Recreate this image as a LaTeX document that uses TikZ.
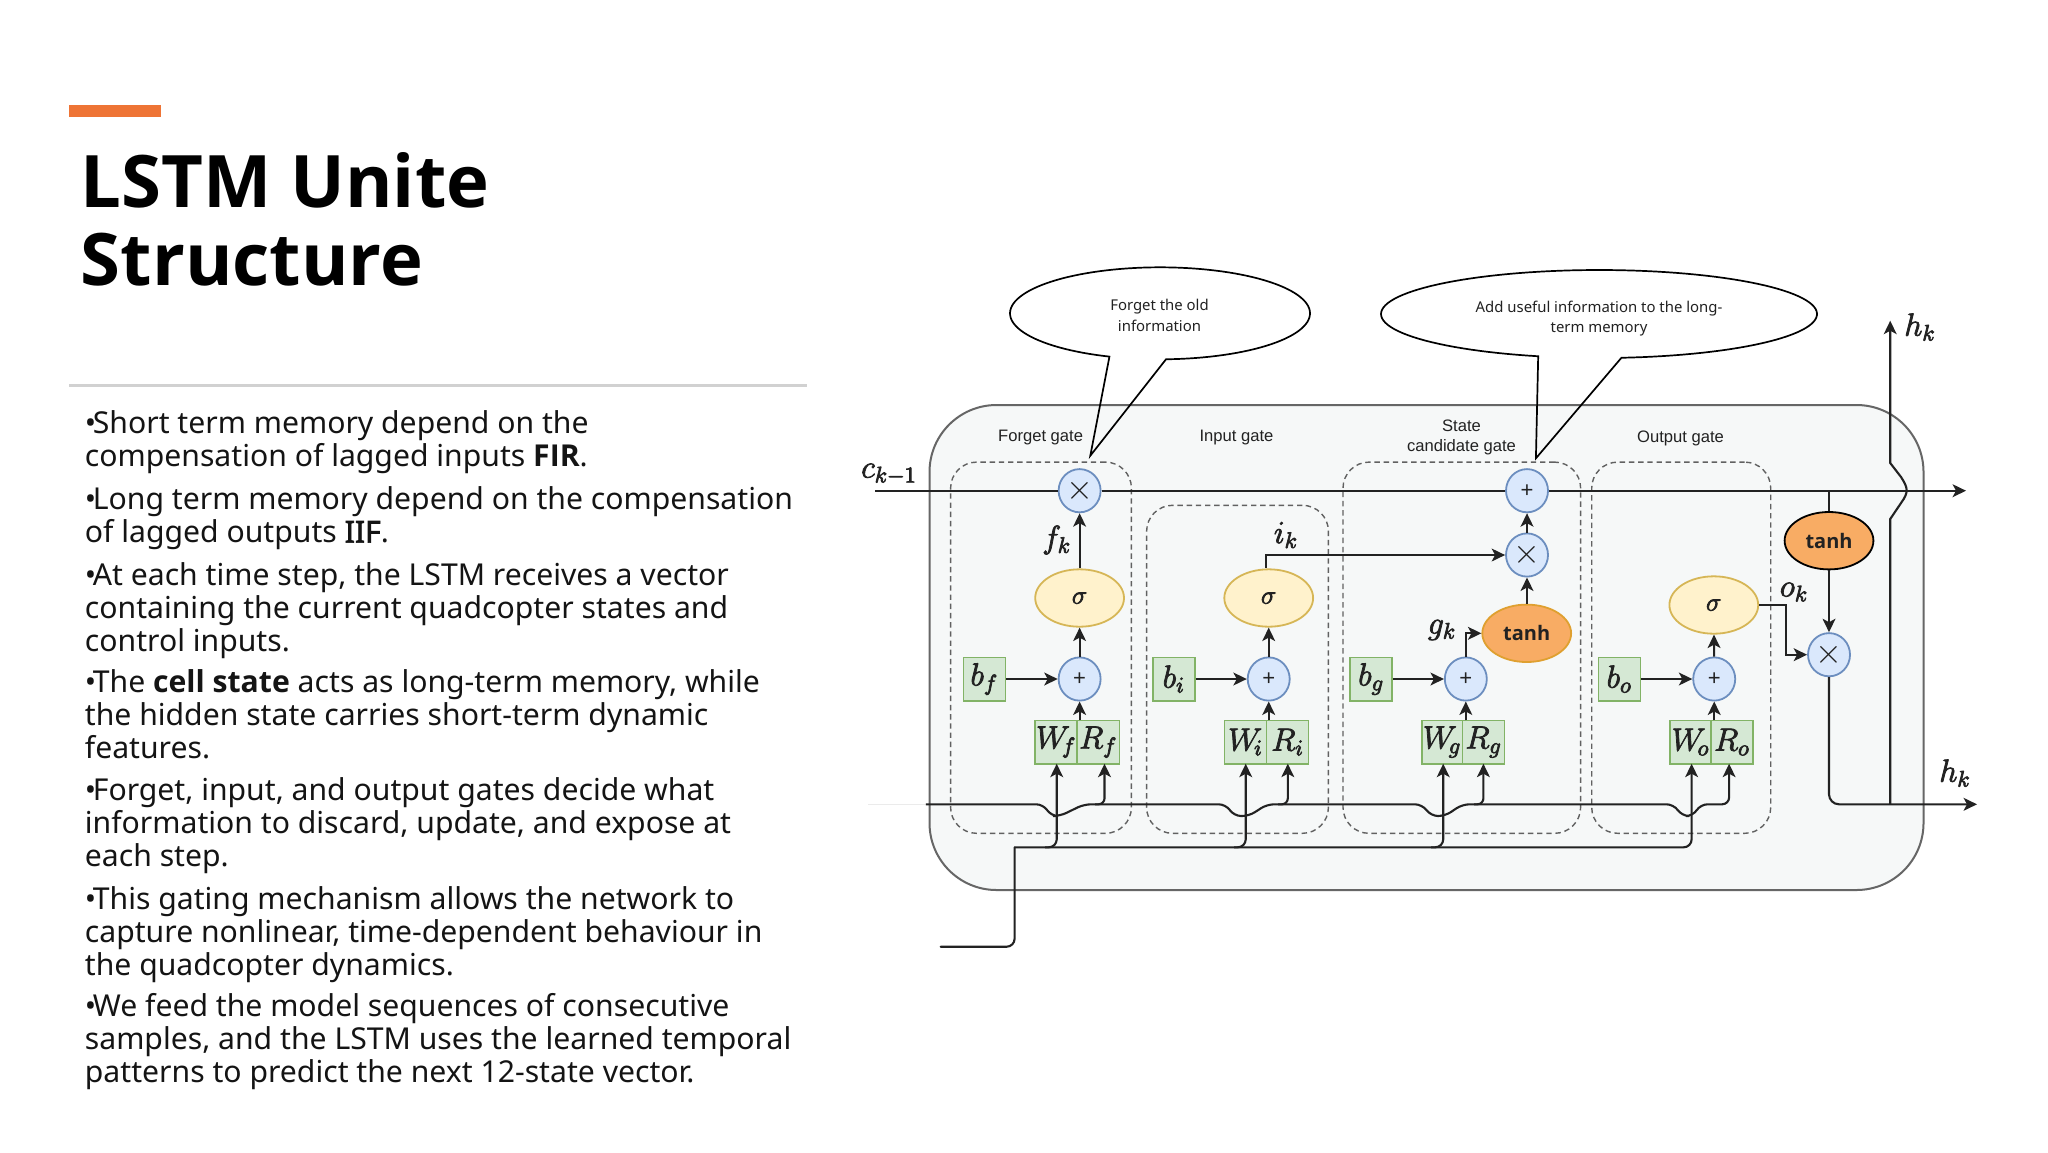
\documentclass[tikz,border=0pt]{standalone}
\usepackage{fix-cm}
\usepackage{amsmath}
\usepackage[no-math]{fontspec}
\setmainfont{Noto Sans}
\newfontfamily\osans{Open Sans}
\newfontfamily\nfake{Noto Sans}[FakeBold=2.2]
\newfontfamily\arialf{Liberation Sans}
\usetikzlibrary{arrows.meta,shapes.geometric,calc}
\definecolor{ink}{HTML}{222222}
\definecolor{bgbox}{HTML}{F6F8F8}
\definecolor{opfill}{HTML}{DAE8FC}
\definecolor{opline}{HTML}{6C8EBF}
\definecolor{sgfill}{HTML}{FFF2CC}
\definecolor{sgline}{HTML}{D6B656}
\definecolor{gnfill}{HTML}{D5E8D4}
\definecolor{gnline}{HTML}{82B366}
\definecolor{orfill}{HTML}{F8AC64}
\definecolor{orline}{HTML}{DFA030}
\definecolor{barc}{HTML}{EE7435}
\tikzset{
  x=0.5pt,y=-0.5pt,
  line/.style={draw=ink,line width=1.05pt},
  arrow/.style={line,-{Stealth[length=6.7pt,width=6.4pt,inset=1.7pt]}},
  dashbox/.style={draw=black!62,dash pattern=on 2.7pt off 1.9pt,line width=.7pt,rounded corners=13pt,inner sep=0pt},
  opn/.style={ellipse,draw=opline,fill=opfill,line width=.9pt,inner sep=0pt,minimum width=21pt,minimum height=21.6pt,text=ink},
  sigm/.style={ellipse,draw=sgline,fill=sgfill,line width=.9pt,inner sep=0pt,minimum width=44.4pt,minimum height=28.7pt,text=ink,font=\fontsize{13}{14}\selectfont},
  tanhn/.style={ellipse,fill=orfill,draw=orline,line width=.9pt,inner sep=0pt,minimum width=44.4pt,minimum height=28.7pt,text=ink,font=\osans\bfseries\fontsize{10}{12}\selectfont},
  wbox/.style={rectangle,draw=gnline,fill=gnfill,line width=.8pt,inner sep=0pt,minimum width=21pt,minimum height=21.7pt,font=\fontsize{16}{17}\selectfont,text=ink},
  gatetxt/.style={font=\arialf\fontsize{8.3}{10.3}\selectfont,text=ink,align=center,inner sep=0pt},
  calltxt/.style={font=\fontsize{7.45}{10.3}\selectfont,text=ink,align=center,inner sep=0pt},
  mathl/.style={font=\fontsize{16}{18}\selectfont,text=ink,inner sep=0pt},
  bodyp/.style={anchor=north west,inner sep=0pt,align=left,text=black!92,font=\fontsize{15.08}{16.35}\selectfont},
  titlet/.style={anchor=base west,inner sep=0pt,text=black,font=\osans\bfseries\fontsize{36.2}{39}\selectfont},
}
\newcommand{\fs}{\rule{0pt}{12pt}•\kern-1.7pt}
\newcommand{\bt}[1]{{\osans\bfseries #1}}
\newcommand{\plusg}{\arialf\fontsize{11}{12}\selectfont +}
\newcommand{\timesg}{\fontsize{17.28}{18}\selectfont$\times$}
\newcommand{\hvy}[1]{\special{pdf:code 2 Tr 0.38 w}#1\special{pdf:code 0 Tr 0 w}}
\begin{document}
\begin{tikzpicture}
\useasboundingbox (0,0) rectangle (2048,1152);
\fill[white] (0,0) rectangle (2048,1152);
% slide furniture
\fill[barc] (69,105) rectangle (161,117);
\node[titlet] (t1) at (80.5,207) {LSTM Unite};
\node[titlet] (t2) at (80.5,285) {Structure};
\draw[black!18,line width=1.3pt] (69,385.5) -- (807,385.5);
% body
\node[bodyp] (p1) at (84.5,409.5) {\fs Short term memory depend on the\\compensation of lagged inputs \bt{FIR}.};
\node[bodyp] (p2) at (84.5,485.5) {\fs Long term memory depend on the compensation\\of lagged outputs {\nfake IIF}.};
\node[bodyp] (p3) at (84.5,561.5) {\fs At each time step, the LSTM receives a vector\\containing the current quadcopter states and\\control inputs.};
\node[bodyp] (p4) at (84.5,668.5) {\fs The \bt{cell state} acts as long-term memory, while\\the hidden state carries short-term dynamic\\features.};
\node[bodyp] (p5) at (84.5,776.5) {\fs Forget, input, and output gates decide what\\information to discard, update, and expose at\\each step.};
\node[bodyp] (p6) at (84.5,885.5) {\fs This gating mechanism allows the network to\\capture nonlinear, time-dependent behaviour in\\the quadcopter dynamics.};
\node[bodyp] (p7) at (84.5,992.5) {\fs We feed the model sequences of consecutive\\samples, and the LSTM uses the learned temporal\\patterns to predict the next 12-state vector.};
% outer cell
\node[rectangle,draw=black!60,fill=bgbox,line width=1pt,rounded corners=33.5pt,inner sep=0pt,minimum width=497pt,minimum height=242.5pt] (cell) at (1426.5,647.5) {};
% gate frames
\node[dashbox,minimum width=90.4pt,minimum height=185.6pt] (gf) at (1041,647.7) {};
\node[dashbox,minimum width=90.9pt,minimum height=164pt] (gi) at (1237.5,669.3) {};
\node[dashbox,minimum width=118.8pt,minimum height=185.6pt] (gg) at (1461.8,647.7) {};
\node[dashbox,minimum width=89.5pt,minimum height=185.6pt] (go) at (1681.2,647.7) {};
% gate titles
\node[gatetxt] (lf) at (1040.6,438) {Forget gate};
\node[gatetxt] (li) at (1236.5,438) {Input gate};
\node[gatetxt] (lg) at (1461.5,437.5) {State\\candidate gate};
\node[gatetxt] (lo) at (1680.5,438) {Output gate};
% operators
\node[opn] (mf) at (1079.6,490.7) {\timesg};
\node[opn] (ag) at (1527,490.7) {\plusg};
\node[opn] (mg) at (1527,555) {\timesg};
\node[opn] (mo) at (1829,654.7) {\timesg};
\node[opn] (af) at (1079.6,679) {\plusg};
\node[opn] (ai) at (1268.7,679) {\plusg};
\node[opn] (gp) at (1465.8,679) {\plusg};
\node[opn] (ao) at (1714.2,679) {\plusg};
% activations
\node[sigm] (sf) at (1079.6,598) {\hvy{$\sigma$}};
\node[sigm] (si) at (1268.7,598) {\hvy{$\sigma$}};
\node[sigm] (so) at (1713.8,605) {\hvy{$\sigma$}};
\node[tanhn] (tg) at (1526.7,633.3) {tanh};
\node[tanhn,draw=black] (to) at (1829,540.7) {tanh};
% bias boxes
\node[wbox] (bf) at (984.4,679) {\hvy{$b_f$}};
\node[wbox] (bi) at (1173.8,679) {\hvy{$b_i$}};
\node[wbox] (bg) at (1371.2,679) {\hvy{$b_g$}};
\node[wbox] (bo) at (1619.3,679) {\hvy{$b_o$}};
% weight boxes
\node[wbox] (wf) at (1056.2,742) {\hvy{$W_{\!f}$}};
\node[wbox] (rf) at (1098.3,742) {\hvy{$R_f$}};
\node[wbox] (wi) at (1245.5,742) {\hvy{$W_{\!i}$}};
\node[wbox] (ri) at (1287.6,742) {\hvy{$R_i$}};
\node[wbox,minimum width=20.3pt] (wg) at (1442.1,742) {\hvy{$W_{\!g}$}};
\node[wbox] (rg) at (1483.6,742) {\hvy{$R_g$}};
\node[wbox,minimum width=20.5pt] (wo) at (1690.6,742) {\hvy{$W_{\!o}$}};
\node[wbox] (ro) at (1732,742) {\hvy{$R_o$}};
% math labels
\node[mathl] (lc) at (889,474) {\hvy{$c_{k-1}$}};
\node[mathl] (lfk) at (1056.7,540) {\hvy{$f_k$}};
\node[mathl] (lik) at (1286,535) {\hvy{$i_k$}};
\node[mathl] (lgk) at (1442,630) {\hvy{$g_k$}};
\node[mathl] (lok) at (1794,592) {\hvy{$o_k$}};
\node[mathl] (lh1) at (1920,327) {\hvy{$h_k$}};
\node[mathl] (lh2) at (1955,773) {\hvy{$h_k$}};
% free ends
\coordinate (cin) at (875,490.7);
\coordinate (cout) at (1966,490.7);
\coordinate (hout) at (1977,804.3);
\coordinate (hup) at (1890.2,320.7);
\coordinate (htap) at (1890.2,804.3);
\coordinate (tap) at (1829,490.7);
\coordinate (faint) at (868,804.3);
\coordinate (hin) at (925.8,804.3);
\coordinate (xin) at (940.7,946.7);
\coordinate (xturn) at (1014.6,946.7);
\coordinate (xtop) at (1014.6,847.3);
% cell state
\draw[line] (cin) -- (mf);
\draw[line] (mf) -- (ag);
\draw[arrow] (ag) -- (cout);
% gate flows
\draw[arrow] (sf) -- (mf);
\draw[arrow] (af) -- (sf);
\draw[arrow] (ai) -- (si);
\draw[arrow] (ao) -- (so);
\draw[arrow] (bf) -- (af);
\draw[arrow] (bi) -- (ai);
\draw[arrow] (bg) -- (gp);
\draw[arrow] (bo) -- (ao);
\draw[arrow] (1079.6,720.3) -- (af);
\draw[arrow] (1268.7,720.3) -- (ai);
\draw[arrow] (1465.8,720.3) -- (gp);
\draw[arrow] (1714.2,720.3) -- (ao);
\draw[arrow] (si.north -| 1266,0) |- (mg);
\draw[arrow] (mg) -- (ag);
\draw[arrow] (tg.north -| mg) -- (mg);
\draw[arrow] (gp.north) |- (tg.west);
\draw[line] (to.north) -- (tap);
\draw[arrow] (to) -- (mo);
\draw[arrow] (so.east) -- (1785.8,605) |- (mo.west);
% output
\draw[arrow,rounded corners=5pt] (mo.south) |- (hout);
\draw[arrow] (htap) -- (1890.2,519) -- (1901,503) .. controls (1909,492) and (1908,488) .. (1901,477) -- (1890.2,463) -- (hup);
% hidden state bus
\draw[black!8,line width=.6pt] (faint) -- (hin);
\draw[arrow,rounded corners=3.5pt] (hin) -- (1043.3,804.3) -- (1051,816) -- (1060,816) -- (1084,804.3)
  -- (1225.8,804.3) -- (1234,816) -- (1249,816) -- (1267,804.3)
  -- (1422,804.3) -- (1431,816) -- (1445,816) -- (1462.4,804.3)
  -- (1673.6,804.3) -- (1682,816) -- (1693,816) -- (1700.4,804.3)
  -- (1729.1,804.3) -- (1729.1,763.7);
\draw[arrow,rounded corners=3pt] (1095,804.3) -- (1104.5,804.3) -- (1104.5,763.7);
\draw[arrow,rounded corners=3pt] (1278,804.3) -- (1287.8,804.3) -- (1287.8,763.7);
\draw[arrow,rounded corners=3pt] (1474,804.3) -- (1483.4,804.3) -- (1483.4,763.7);
% input bus
\draw[line,rounded corners=4pt,line cap=round] (xin) -- (xturn) -- (xtop);
\draw[arrow,rounded corners=4pt] (xtop) -- (1691.6,847.3) -- (1691.6,763.7);
\draw[arrow,rounded corners=4pt] (1045,847.3) -- (1056.7,847.3) -- (1056.7,763.7);
\draw[arrow,rounded corners=4pt] (1234,847.3) -- (1245.7,847.3) -- (1245.7,763.7);
\draw[arrow,rounded corners=4pt] (1431,847.3) -- (1443.2,847.3) -- (1443.2,763.7);
% callouts
\coordinate (tip1) at (1090.3,455.7);
\coordinate (tip2) at (1535.9,458.3);
\draw[black,line width=.85pt,line join=miter]
  plot[domain=87.7:-250.3,samples=120] ({1160+150*cos(\x)},{313.3+46*sin(\x)}) -- (tip1) -- cycle;
\draw[black,line width=.85pt,line join=miter]
  plot[domain=84.1:-253.8,samples=120] ({1599+218*cos(\x)},{314+44*sin(\x)}) -- (tip2) -- cycle;
\node[calltxt] (c1) at (1159.5,315.5) {Forget the old\\information};
\node[calltxt] (c2) at (1599,318.5) {Add useful information to the long-\\term memory};
\end{tikzpicture}
\end{document}
